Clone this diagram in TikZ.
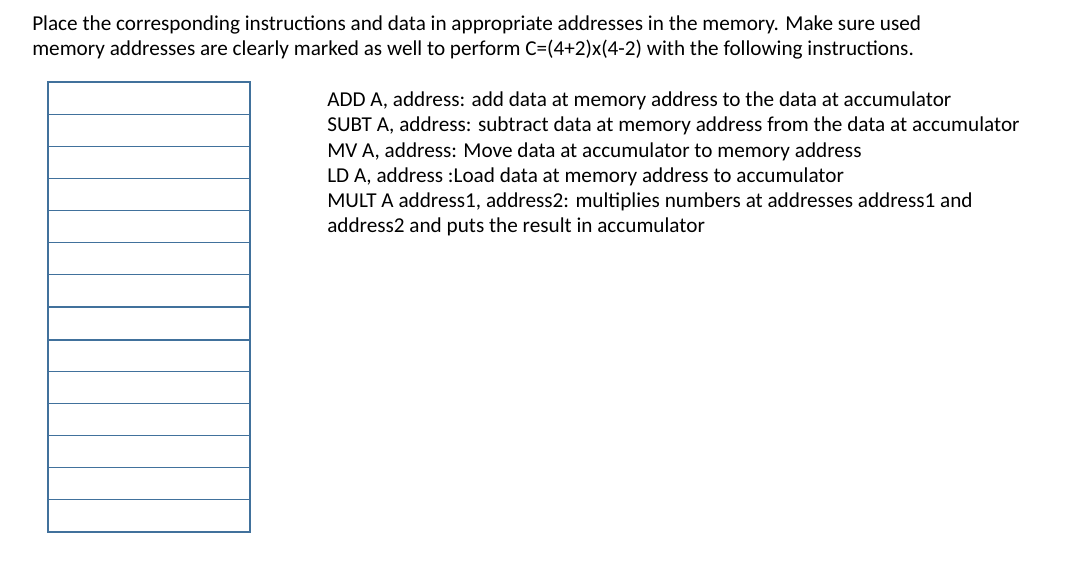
\documentclass[tikz,border=0pt]{standalone}
\usepackage{fontspec}
\setmainfont{Carlito}
\begin{document}
\begin{tikzpicture}[x=0.75pt,y=-0.75pt,
  txt/.style={anchor=base west,inner sep=0pt,font=\fontsize{15.9pt}{19pt}\selectfont}]
\useasboundingbox (0,0) rectangle (1078,567);
\definecolor{tb}{RGB}{65,113,156}
\node[txt] (t1) at (32,31) {Place the corresponding instructions and data in appropriate addresses in the memory. Make sure used};
\node[txt] (t2) at (32,56) {memory addresses are clearly marked as well to perform C=(4+2)x(4-2) with the following instructions.};
\foreach \i in {0,...,13} {
  \draw[draw=tb,line width=0.9pt] (48,{82+\i*32.14}) rectangle (250,{82+(\i+1)*32.14});
}
\draw[draw=tb,line width=1.6pt] (48,340) -- (250,340);
\node[txt] (r1) at (327,107) {ADD A, address: add data at memory address to the data at accumulator};
\node[txt] (r2) at (327,132) {SUBT A, address: subtract data at memory address from the data at accumulator};
\node[txt] (r3) at (327,157) {MV A, address: Move data at accumulator to memory address};
\node[txt] (r4) at (327,182) {LD A, address :Load data at memory address to accumulator};
\node[txt] (r5) at (327,207) {MULT A address1, address2: multiplies numbers at addresses address1 and};
\node[txt] (r6) at (327,232) {address2 and puts the result in accumulator};
\end{tikzpicture}
\end{document}
